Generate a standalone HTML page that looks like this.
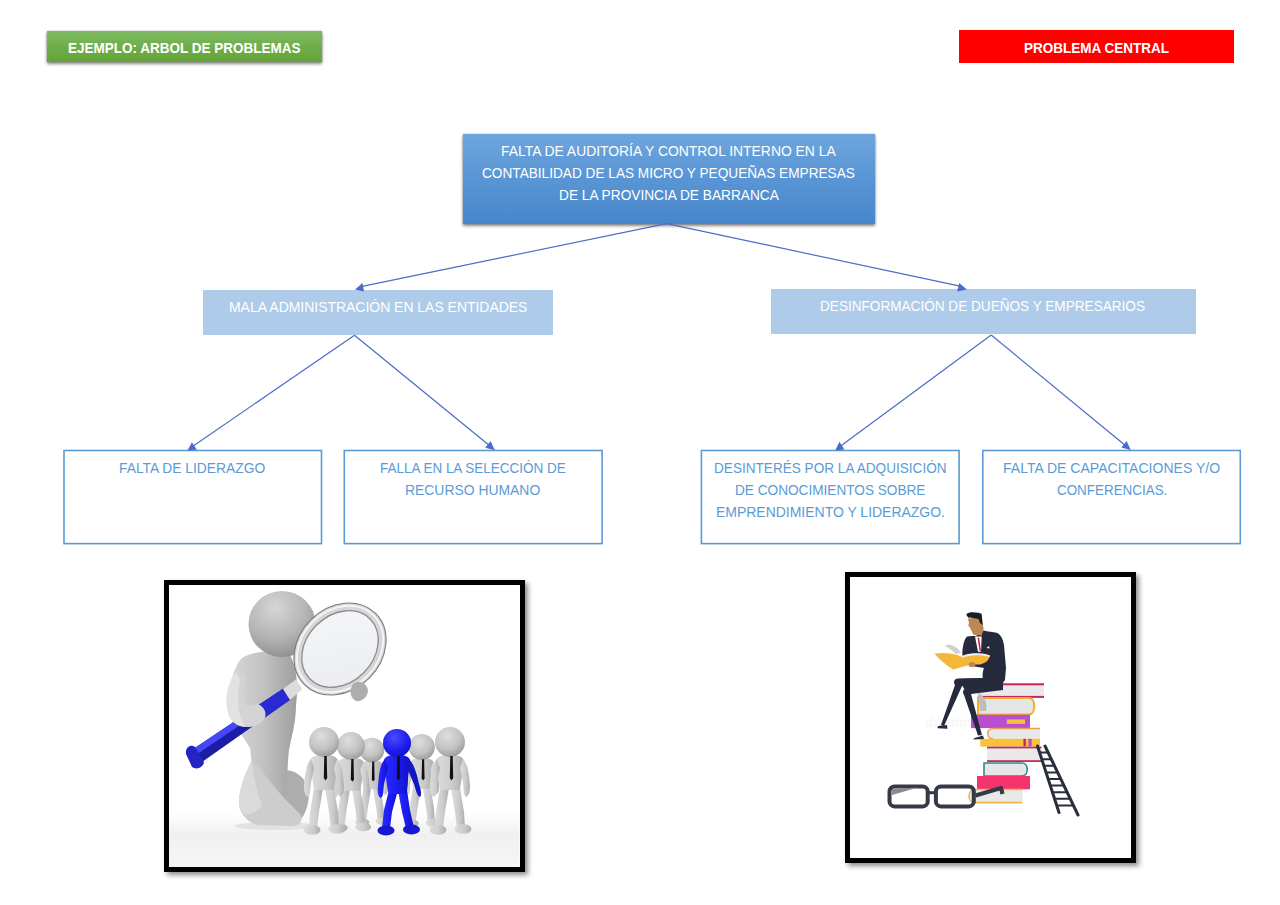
<!DOCTYPE html>
<html><head><meta charset="utf-8">
<style>
html,body{margin:0;padding:0;background:#fff;}
body{width:1280px;height:905px;overflow:hidden;position:relative;font-family:"Liberation Sans",sans-serif;}
.b{position:absolute;box-sizing:border-box;}
.t{position:absolute;white-space:nowrap;font-size:15.3px;line-height:1;transform-origin:0 0;}
.w{color:#fff;}
.bl{color:#5b9bd5;}
.bd{font-weight:bold;}
#green{left:47px;top:31px;width:275px;height:31px;background:linear-gradient(#7fba62,#70b04c 45%,#63a336);box-shadow:0 2px 3px rgba(0,0,0,.45),0 0 2px rgba(0,0,0,.25);}
#red{left:959px;top:30px;width:275px;height:32.5px;background:#ff0000;}
#central{left:463px;top:134px;width:412px;height:90px;background:linear-gradient(#6ea5dd,#5b97d6 45%,#4786ca);box-shadow:0 2px 3px rgba(0,0,0,.45),0 0 2px rgba(0,0,0,.25);}
.lvl2{background:#aecbe9;}
#m1{left:203px;top:290px;width:350px;height:45px;}
#m2{left:771px;top:289px;width:425px;height:45px;}
.lvl3{border:1.4px solid #5b9bd5;background:#fff;}
#c1{left:63.3px;top:449.8px;width:258.9px;height:94.5px;}
#c2{left:343.6px;top:449.8px;width:259.2px;height:94.5px;}
#c3{left:700.7px;top:449.8px;width:259.1px;height:94.5px;}
#c4{left:982.1px;top:449.8px;width:258.9px;height:94.5px;}
.frame{border:5px solid #000;background:#fff;box-shadow:3px 3px 5px rgba(0,0,0,.45);overflow:hidden;}
#f1{left:164px;top:580px;width:360.5px;height:292px;}
#f2{left:845px;top:572.4px;width:290.6px;height:290.6px;}
svg{position:absolute;left:0;top:0;}
</style></head><body>
<div class="b" id="green"></div>
<div class="b" id="red"></div>
<div class="b" id="central"></div>
<div class="b lvl2" id="m1"></div>
<div class="b lvl2" id="m2"></div>

<svg width="1280" height="905" viewBox="0 0 1280 905">
<g stroke="#5b9bd5" stroke-width="1.6" fill="none">
<rect x="64" y="450.5" width="257.5" height="93.1"/>
<rect x="344.3" y="450.5" width="257.8" height="93.1"/>
<rect x="701.4" y="450.5" width="257.7" height="93.1"/>
<rect x="982.8" y="450.5" width="257.5" height="93.1"/>
</g>
<g stroke="#4a6cc8" stroke-width="1.2" fill="none">
<line x1="666.6" y1="223.6" x2="361" y2="286.6"/>
<line x1="666.6" y1="223.6" x2="960" y2="286.2"/>
<line x1="354.5" y1="335.2" x2="192.5" y2="446.5"/>
<line x1="354.5" y1="335.2" x2="490" y2="446"/>
<line x1="991.2" y1="335" x2="840" y2="446.5"/>
<line x1="991.2" y1="335" x2="1126" y2="446"/>
</g>
<g fill="#4a6cc8">
<polygon points="355,289.4 362.5,283 364,291.6"/>
<polygon points="966.9,289.5 959.2,283.1 957.2,291.6"/>
<polygon points="187.5,450.5 191.9,442.3 196.9,449.8"/>
<polygon points="494.8,450.3 490.5,441.1 485.3,447.8"/>
<polygon points="835.3,450.5 839.4,441.8 844.4,449.6"/>
<polygon points="1130.8,450 1126.6,440.9 1121.4,447.6"/>
</g>
</svg>

<div class="b frame" id="f1"></div>
<div class="b frame" id="f2"></div>
<!--LEFTIMG-->
<svg width="1280" height="905" viewBox="0 0 1280 905" style="position:absolute;left:0;top:0">
<defs>
<clipPath id="cl1"><rect x="169" y="585" width="350.5" height="282"/></clipPath>
<radialGradient id="gball" cx="0.4" cy="0.3" r="0.75">
<stop offset="0" stop-color="#dedede"/><stop offset="0.6" stop-color="#c2c2c2"/><stop offset="1" stop-color="#989898"/>
</radialGradient>
<radialGradient id="gbig" cx="0.4" cy="0.25" r="0.85">
<stop offset="0" stop-color="#d6d6d6"/><stop offset="0.55" stop-color="#b4b4b4"/><stop offset="1" stop-color="#868686"/>
</radialGradient>
<linearGradient id="gbody" x1="0" y1="0" x2="1" y2="0">
<stop offset="0" stop-color="#d8d8d8"/><stop offset="0.5" stop-color="#c2c2c2"/><stop offset="1" stop-color="#9e9e9e"/>
</linearGradient>
<linearGradient id="gfig" x1="0" y1="0" x2="1" y2="0">
<stop offset="0" stop-color="#dcdcdc"/><stop offset="0.55" stop-color="#cdcdcd"/><stop offset="1" stop-color="#acacac"/>
</linearGradient>
<linearGradient id="gbluebody" x1="0" y1="0" x2="1" y2="0">
<stop offset="0" stop-color="#2a2aff"/><stop offset="0.6" stop-color="#1a1aee"/><stop offset="1" stop-color="#1010c0"/>
</linearGradient>
<linearGradient id="gfloor" x1="0" y1="0" x2="0" y2="1">
<stop offset="0" stop-color="#ffffff"/><stop offset="0.4" stop-color="#f0f0f0"/><stop offset="1" stop-color="#f6f6f6"/>
</linearGradient>
<radialGradient id="gblue" cx="0.4" cy="0.3" r="0.8">
<stop offset="0" stop-color="#4a4aff"/><stop offset="0.6" stop-color="#1d1df0"/><stop offset="1" stop-color="#0f0fb8"/>
</radialGradient>
<linearGradient id="glens" x1="0" y1="0" x2="1" y2="1">
<stop offset="0" stop-color="#f6f7fa"/><stop offset="1" stop-color="#e9ebf0"/>
</linearGradient>
</defs>
<g clip-path="url(#cl1)">
<rect x="168" y="812" width="352" height="56" fill="url(#gfloor)"/>
<ellipse cx="275" cy="826" rx="40" ry="4" fill="#e2e2e2"/>
<!-- big figure -->
<path d="M284,770 C296,770 308,778 309,795 C308,812 301,822 292,826 L276,824 C278,806 278,788 284,770 Z" fill="#adadad"/>
<path d="M242,658 C255,650 275,650 290,655 C298,670 298,690 296,705 C296,722 292,735 289,750 C287,765 288,780 286,795 C284,806 278,812 270,814 L256,812 C254,790 252,765 250,748 C244,738 236,728 232,714 C226,695 232,668 242,658 Z" fill="url(#gbody)"/>
<path d="M252,760 C262,770 276,790 286,800 L300,814 C304,820 300,826 292,826 L258,825 C246,822 238,812 239,800 C240,786 246,772 252,760 Z" fill="#cdcdcd"/>
<path d="M239,800 C240,786 246,772 252,760 C254,776 256,790 262,806 C256,812 248,816 244,814 C240,810 239,805 239,800 Z" fill="#dadada"/>
<ellipse cx="282" cy="624" rx="33.5" ry="33" fill="url(#gbig)"/>
<!-- handle -->
<path d="M189.5,751.5 L283.5,688.5 L290.5,699.5 L198.5,764.5 Z" fill="#1c1ca4"/>
<path d="M189.5,751.5 L283.5,688.5 L286.5,693.5 L193,757 Z" fill="#4646fa"/>
<path d="M246,713 L283.5,688.5 L290.5,699.5 L254,725 Z" fill="#2a2ad4"/>
<path d="M186,754 C185,747 191,744 195,747 L204,762 C203,768 196,770 192,767 Z" fill="#2424c4"/>
<path d="M283,689 L296,679.5 L302.5,689 L290,700 Z" fill="#dcdcdc"/>
<path d="M236,672 C226,685 224,705 230,718 C236,728 252,730 262,722 C268,716 266,708 258,704 L246,706 C242,696 244,684 246,676 Z" fill="#d4d4d4"/>
<path d="M236,672 C226,685 224,705 230,718 C234,724 240,727 246,727 C238,718 236,700 240,680 Z" fill="#e2e2e2"/>
<!-- magnifier -->
<g transform="rotate(45 340 649)">
<ellipse cx="340" cy="649" rx="37.3" ry="46.3" fill="url(#glens)" stroke="#d6d6d6" stroke-width="8"/>
<ellipse cx="340" cy="649" rx="41.3" ry="50.3" fill="none" stroke="#7a7a7a" stroke-width="1.1"/>
<ellipse cx="340" cy="649" rx="33.5" ry="42.5" fill="none" stroke="#8c8c8c" stroke-width="1.3"/>
<ellipse cx="340" cy="649" rx="38.5" ry="47.5" fill="none" stroke="#f4f4f4" stroke-width="2"/>
</g>
<path d="M353,684 C358,680 366,682 368,690 C368,697 362,702 356,701 C350,698 349,690 353,684 Z" fill="#adadad"/>
<!-- small figures -->
<g transform="translate(372 750) scale(0.82)"><path d="M-10,46 L-1,46 L-5,70 L-7,86 L-15,86 L-14,70 Z" fill="url(#gfig)"/><path d="M1,46 L10,46 L14,70 L15,86 L7,86 L5,70 Z" fill="url(#gfig)"/><ellipse cx="-12" cy="88" rx="8.5" ry="4.8" fill="url(#gfig)"/><ellipse cx="13" cy="87" rx="8.5" ry="4.8" fill="url(#gfig)"/><path d="M-14,20 C-14,14 -8,13 0,13 C8,13 14,14 14,20 L12,34 C11,42 10,46 10,48 L-10,48 C-10,46 -11,42 -12,34 Z" fill="url(#gfig)"/><path d="M-13,17 C-18,22 -19,32 -20,44 C-20,50 -19,54 -16,55 C-13,53 -14,47 -13,41 L-10,26 Z" fill="url(#gfig)"/><path d="M13,17 C18,22 19,32 20,44 C20,50 19,54 16,55 C13,53 14,47 13,41 L10,26 Z" fill="url(#gfig)"/><circle cx="0" cy="0" r="15" fill="url(#gball)"/><path d="M0.3,14 L2.7,14 L3.2,36 L1.5,38.5 L-0.2,36 Z" fill="#111"/></g><g transform="translate(351 746) scale(0.93)"><path d="M-10,46 L-1,46 L-5,70 L-7,86 L-15,86 L-14,70 Z" fill="url(#gfig)"/><path d="M1,46 L10,46 L14,70 L15,86 L7,86 L5,70 Z" fill="url(#gfig)"/><ellipse cx="-12" cy="88" rx="8.5" ry="4.8" fill="url(#gfig)"/><ellipse cx="13" cy="87" rx="8.5" ry="4.8" fill="url(#gfig)"/><path d="M-14,20 C-14,14 -8,13 0,13 C8,13 14,14 14,20 L12,34 C11,42 10,46 10,48 L-10,48 C-10,46 -11,42 -12,34 Z" fill="url(#gfig)"/><path d="M-13,17 C-18,22 -19,32 -20,44 C-20,50 -19,54 -16,55 C-13,53 -14,47 -13,41 L-10,26 Z" fill="url(#gfig)"/><path d="M13,17 C18,22 19,32 20,44 C20,50 19,54 16,55 C13,53 14,47 13,41 L10,26 Z" fill="url(#gfig)"/><circle cx="0" cy="0" r="15" fill="url(#gball)"/><path d="M0.3,14 L2.7,14 L3.2,36 L1.5,38.5 L-0.2,36 Z" fill="#111"/></g><g transform="translate(421.8 747) scale(0.87)"><path d="M-10,46 L-1,46 L-5,70 L-7,86 L-15,86 L-14,70 Z" fill="url(#gfig)"/><path d="M1,46 L10,46 L14,70 L15,86 L7,86 L5,70 Z" fill="url(#gfig)"/><ellipse cx="-12" cy="88" rx="8.5" ry="4.8" fill="url(#gfig)"/><ellipse cx="13" cy="87" rx="8.5" ry="4.8" fill="url(#gfig)"/><path d="M-14,20 C-14,14 -8,13 0,13 C8,13 14,14 14,20 L12,34 C11,42 10,46 10,48 L-10,48 C-10,46 -11,42 -12,34 Z" fill="url(#gfig)"/><path d="M-13,17 C-18,22 -19,32 -20,44 C-20,50 -19,54 -16,55 C-13,53 -14,47 -13,41 L-10,26 Z" fill="url(#gfig)"/><path d="M13,17 C18,22 19,32 20,44 C20,50 19,54 16,55 C13,53 14,47 13,41 L10,26 Z" fill="url(#gfig)"/><circle cx="0" cy="0" r="15" fill="url(#gball)"/><path d="M0.3,14 L2.7,14 L3.2,36 L1.5,38.5 L-0.2,36 Z" fill="#111"/></g><g transform="translate(324 742) scale(1.0)"><path d="M-10,46 L-1,46 L-5,70 L-7,86 L-15,86 L-14,70 Z" fill="url(#gfig)"/><path d="M1,46 L10,46 L14,70 L15,86 L7,86 L5,70 Z" fill="url(#gfig)"/><ellipse cx="-12" cy="88" rx="8.5" ry="4.8" fill="url(#gfig)"/><ellipse cx="13" cy="87" rx="8.5" ry="4.8" fill="url(#gfig)"/><path d="M-14,20 C-14,14 -8,13 0,13 C8,13 14,14 14,20 L12,34 C11,42 10,46 10,48 L-10,48 C-10,46 -11,42 -12,34 Z" fill="url(#gfig)"/><path d="M-13,17 C-18,22 -19,32 -20,44 C-20,50 -19,54 -16,55 C-13,53 -14,47 -13,41 L-10,26 Z" fill="url(#gfig)"/><path d="M13,17 C18,22 19,32 20,44 C20,50 19,54 16,55 C13,53 14,47 13,41 L10,26 Z" fill="url(#gfig)"/><circle cx="0" cy="0" r="15" fill="url(#gball)"/><path d="M0.3,14 L2.7,14 L3.2,36 L1.5,38.5 L-0.2,36 Z" fill="#111"/></g><g transform="translate(450 742) scale(1.0)"><path d="M-10,46 L-1,46 L-5,70 L-7,86 L-15,86 L-14,70 Z" fill="url(#gfig)"/><path d="M1,46 L10,46 L14,70 L15,86 L7,86 L5,70 Z" fill="url(#gfig)"/><ellipse cx="-12" cy="88" rx="8.5" ry="4.8" fill="url(#gfig)"/><ellipse cx="13" cy="87" rx="8.5" ry="4.8" fill="url(#gfig)"/><path d="M-14,20 C-14,14 -8,13 0,13 C8,13 14,14 14,20 L12,34 C11,42 10,46 10,48 L-10,48 C-10,46 -11,42 -12,34 Z" fill="url(#gfig)"/><path d="M-13,17 C-18,22 -19,32 -20,44 C-20,50 -19,54 -16,55 C-13,53 -14,47 -13,41 L-10,26 Z" fill="url(#gfig)"/><path d="M13,17 C18,22 19,32 20,44 C20,50 19,54 16,55 C13,53 14,47 13,41 L10,26 Z" fill="url(#gfig)"/><circle cx="0" cy="0" r="15" fill="url(#gball)"/><path d="M0.3,14 L2.7,14 L3.2,36 L1.5,38.5 L-0.2,36 Z" fill="#111"/></g><path d="M389,790 L398,790 L392,812 L390,828 L382,828 L384,810 Z" fill="url(#gbluebody)"/><path d="M398,790 L407,790 L410,810 L414,828 L406,828 L402,812 Z" fill="url(#gbluebody)"/><ellipse cx="386" cy="830.5" rx="8.5" ry="5" fill="#1818d0"/><ellipse cx="411.5" cy="829.5" rx="8.5" ry="5" fill="#1818d0"/><path d="M384,761 C384,756 390,755 397,755 C404,755 410,756 410,761 L408,778 C408,786 407,792 406,794 L389,794 C388,792 387,786 386,778 Z" fill="url(#gbluebody)"/><path d="M385,759 C380,764 379,774 378,786 C377,792 378,797 381,798 C384,796 383,790 384,784 L388,768 Z" fill="url(#gbluebody)"/><path d="M409,759 C414,764 417,774 419,784 C421,790 422,795 420,797 C417,796 416,790 414,784 L407,768 Z" fill="#1515c8"/><circle cx="397" cy="743" r="14" fill="url(#gblue)"/><path d="M397.3,756 L399.7,756 L400.2,778 L398.5,780.5 L396.8,778 Z" fill="#111"/>
</g>
</svg>
<!--/LEFTIMG-->
<!--RIGHTIMG-->
<svg width="1280" height="905" viewBox="0 0 1280 905" style="position:absolute;left:0;top:0">
<defs><clipPath id="cl2"><rect x="850" y="577.4" width="280.6" height="280.6"/></clipPath></defs>
<g clip-path="url(#cl2)">
<!-- watermark -->
<text x="925" y="727" font-family="Liberation Sans" font-size="14" font-weight="bold" fill="#f7f7f7">dreamstime</text>
<!-- books -->
<rect x="978" y="683.3" width="66" height="14.4" fill="#e9e9e9"/>
<rect x="978" y="683.3" width="66" height="2" fill="#c9285a"/>
<rect x="978" y="695.9" width="66" height="2" fill="#c9285a"/>
<path d="M978,698 L1029,698 C1036,698 1036,714.5 1029,714.5 L978,714.5 Z" fill="#e6e6e6" stroke="#f0ae2c" stroke-width="2"/>
<rect x="971" y="714.8" width="59" height="13.3" fill="#b84ed0"/>
<rect x="1006.8" y="719.4" width="18.2" height="4.5" fill="#f6c13a"/>
<path d="M1040,728.5 L993,728.5 C986,728.5 986,738.8 993,738.8 L1040,738.8 Z" fill="#e8e8e8"/>
<path d="M1040,728.5 L993,728.5 C986,728.5 986,738.8 993,738.8" fill="none" stroke="#e9a050" stroke-width="1.5"/>
<rect x="980.3" y="738.8" width="59.7" height="7.8" fill="#f9c235"/>
<rect x="1023.4" y="738.8" width="2.5" height="7.8" fill="#c9285a"/>
<rect x="1028.4" y="738.8" width="3.3" height="7.8" fill="#b84ed0"/>
<rect x="987" y="746.6" width="54.6" height="15.4" fill="#e9e9e9"/>
<rect x="987" y="746.6" width="54.6" height="1.8" fill="#c9285a"/>
<rect x="987" y="760.2" width="54.6" height="1.8" fill="#c9285a"/>
<path d="M984,763 L1022,763 C1029,763 1029,776 1022,776 L984,776 Z" fill="#e6e6e6" stroke="#2e8b94" stroke-width="1.6"/>
<rect x="977" y="776" width="53" height="13.3" fill="#f5336e"/>
<path d="M1022.5,789.5 L975,789.5 C967,789.5 967,802.6 975,802.6 L1022.5,802.6 Z" fill="#e9e9e9"/>
<path d="M1022.5,789.5 L975,789.5 C967,789.5 967,802.6 975,802.6 L1022.5,802.6" fill="none" stroke="#f0b848" stroke-width="1.6"/>
<!-- leg shadow on books -->
<path d="M978,693 C984,695 988,702 986,711 L980,711 Z" fill="#bdbdbd"/>
<!-- ladder -->
<g stroke="#2a2d3b" stroke-width="3" fill="none" stroke-linecap="round">
<line x1="1037.5" y1="746" x2="1059" y2="812.5"/>
<line x1="1045" y1="746" x2="1078" y2="815"/>
</g>
<g stroke="#2a2d3b" stroke-width="2">
<line x1="1039.6" y1="752.6" x2="1048.2" y2="752.6"/>
<line x1="1041.8" y1="759.2" x2="1051.3" y2="759.2"/>
<line x1="1043.9" y1="765.8" x2="1054.5" y2="765.8"/>
<line x1="1046" y1="772.4" x2="1057.6" y2="772.4"/>
<line x1="1048.2" y1="779" x2="1060.8" y2="779"/>
<line x1="1050.3" y1="785.6" x2="1063.9" y2="785.6"/>
<line x1="1052.4" y1="792.2" x2="1067.1" y2="792.2"/>
<line x1="1054.6" y1="798.8" x2="1070.2" y2="798.8"/>
<line x1="1056.7" y1="805.4" x2="1073.4" y2="805.4"/>
</g>
<!-- glasses -->
<rect x="889.5" y="786.4" width="38.2" height="20" rx="5" fill="none" stroke="#363a47" stroke-width="4"/>
<rect x="935.9" y="786.4" width="37.9" height="20" rx="5" fill="none" stroke="#363a47" stroke-width="4"/>
<line x1="929" y1="792.7" x2="935" y2="792.7" stroke="#363a47" stroke-width="3"/>
<path d="M892,795 L918,787.5 L892,789 Z" fill="#8a8a8a"/>
<path d="M975.5,795.5 L1001,788 L1002.5,794" fill="none" stroke="#363a47" stroke-width="4.2" stroke-linejoin="round"/>
<!-- man -->
<g fill="#262a3d">
<path d="M1003,677.5 L958,678.5 C954,679 953,682 955,685 L941,725 L944,726 L962,686 L1000,684 Z"/>
<path d="M1002,684 L967,688 C963,689 962,692 964,695 L978,735.5 L982,735 L971,694 L1003,690 Z"/>
<path d="M1003,677.5 L958,679 L965,690 L1003,690 Z"/>
<path d="M938,726 L947,725 L947.5,728.8 L937.5,728.3 Z"/>
<path d="M974,738.3 L983,735.5 L984,739 L973.5,739.5 Z"/>
<path d="M967,636.6 C970,636 973,636 976,636 L983.6,630.5 C990,632 995,632 997.5,633 C1001,635 1003,639 1004,645 L1006,668 L1005,680 L1002,684 L985,686 C982,680 982,672 984,668 L972,666 C966,662 962,658 962.3,652.4 C963,645 964,640 967,636.6 Z"/>
</g>
<path d="M975,636.6 L981.7,636.6 L981,651.8 L978,651.8 Z" fill="#fff"/>
<path d="M977.5,637.8 L979.2,637.8 L981,651 L979.6,651 Z" fill="#c9224f"/>
<path d="M986.5,648 L989,646 L989.5,648.5 Z" fill="#fff"/>
<path d="M968,618.4 L982,617 L983.6,629.3 L981.7,635.4 L973.2,634.8 L971.4,630.5 L969.5,627 L968.3,625.5 L969,623 Z" fill="#bd8655"/>
<path d="M966.2,614.7 C968,612.5 970,612.3 972.6,612.3 C977,612.3 980,613 981.7,614.1 L982.5,625 L980,623 L978.5,619 L970,617.6 L968.4,617.8 Z" fill="#1b1c26"/>
<path d="M945,645.5 C950,643 957,646 961,653 L956,654 C952,650 948,648 945,645.5 Z" fill="#cfcfcf"/>
<path d="M934.3,653.7 C945,652 955,654 961,656.5 C970,652 982,652.5 990,655.5 C989,660 986,663 980,664.5 C972,664 965,666 953,669.5 C946,665 940,660 934.3,653.7 Z" fill="#f5b63a"/>
<path d="M961,656.5 C970,652 982,652.5 990,655.5 L989.6,657 C981,654.5 970,654.5 962,658 Z" fill="#eeeeee"/>
<ellipse cx="972" cy="664.5" rx="3.4" ry="2.6" fill="#bd8655"/>
</g>
</svg>
<!--/RIGHTIMG-->


<div class="t w bd" style="left:68.15px;top:39.68px;transform:scaleX(.8828)">EJEMPLO: ARBOL DE PROBLEMAS</div>
<div class="t w bd" style="left:1024.05px;top:40.33px;transform:scaleX(.8830)">PROBLEMA CENTRAL</div>
<div class="t w" style="left:501.19px;top:143.08px;transform:scaleX(.9080)">FALTA DE AUDITORÍA Y CONTROL INTERNO EN LA</div>
<div class="t w" style="left:482.12px;top:165.28px;transform:scaleX(.8916)">CONTABILIDAD DE LAS MICRO Y PEQUEÑAS EMPRESAS</div>
<div class="t w" style="left:559.10px;top:187.18px;transform:scaleX(.8949)">DE LA PROVINCIA DE BARRANCA</div>
<div class="t w" style="left:228.63px;top:298.58px;transform:scaleX(.9119)">MALA ADMINISTRACIÓN EN LAS ENTIDADES</div>
<div class="t w" style="left:820.21px;top:297.58px;transform:scaleX(.8885)">DESINFORMACIÓN DE DUEÑOS Y EMPRESARIOS</div>
<div class="t bl" style="left:119.49px;top:459.88px;transform:scaleX(.9038)">FALTA DE LIDERAZGO</div>
<div class="t bl" style="left:380.12px;top:459.98px;transform:scaleX(.8804)">FALLA EN LA SELECCIÓN DE</div>
<div class="t bl" style="left:405.29px;top:482.08px;transform:scaleX(.9092)">RECURSO HUMANO</div>
<div class="t bl" style="left:713.71px;top:459.98px;transform:scaleX(.8884)">DESINTERÉS POR LA ADQUISICIÓN</div>
<div class="t bl" style="left:734.81px;top:481.98px;transform:scaleX(.8903)">DE CONOCIMIENTOS SOBRE</div>
<div class="t bl" style="left:715.98px;top:503.98px;transform:scaleX(.9131)">EMPRENDIMIENTO Y LIDERAZGO.</div>
<div class="t bl" style="left:1003.48px;top:459.98px;transform:scaleX(.9178)">FALTA DE CAPACITACIONES Y/O</div>
<div class="t bl" style="left:1056.73px;top:481.98px;transform:scaleX(.8769)">CONFERENCIAS.</div>
</body></html>
